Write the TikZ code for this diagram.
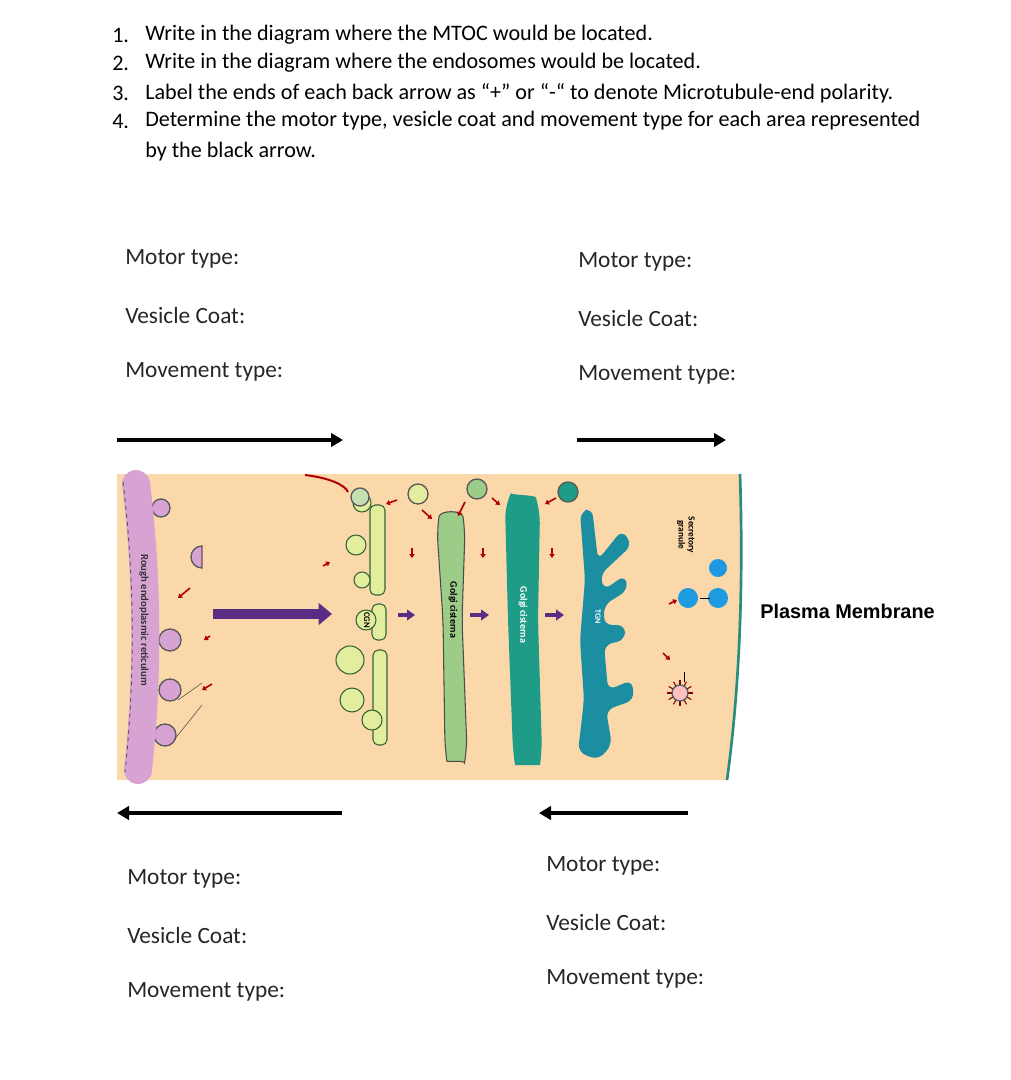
\documentclass[tikz,border=0pt]{standalone}
\usepackage{fontspec}
\setmainfont{Carlito}
\newfontfamily\pmfont{Liberation Sans}
\usetikzlibrary{arrows.meta}
\definecolor{bg}{HTML}{FAD8AA}
\definecolor{er}{HTML}{D7A3D3}
\definecolor{cgn}{HTML}{E2EE9E}
\definecolor{gc}{HTML}{9CCC88}
\definecolor{gd}{HTML}{1E9C88}
\definecolor{tgn}{HTML}{1B8EA2}
\definecolor{gran}{HTML}{1E9BE0}
\definecolor{vio}{HTML}{5B2C83}
\definecolor{memb}{HTML}{2A8C7A}
\tikzset{
 txt/.style={anchor=west,inner sep=0pt,font=\fontsize{16.6}{19}\selectfont},
 lbl/.style={anchor=west,inner sep=0pt,font=\fontsize{17.5}{20}\selectfont,text=black!85},
 blk/.style={line width=3.2pt,-{Triangle[length=9pt,width=10pt]}},
 parr/.style={vio,line width=3pt,-{Triangle[length=6pt,width=8pt]}},
 rarr/.style={red!70!black,line width=1.2pt,-{Triangle[length=3pt,width=4pt]}},
 ves/.style={draw=gray!70!black,line width=1pt},
}
\begin{document}
\begin{tikzpicture}[x=0.75pt,y=-0.75pt]
\useasboundingbox (0,0) rectangle (1010,1080);
% questions
\foreach \n/\y/\t in {1/35/Write in the diagram where the MTOC would be located.,
 2/63/Write in the diagram where the endosomes would be located.,
 3/93/{Label the ends of each back arrow as “+” or “-“ to denote Microtubule-end polarity.},
 4/121/{Determine the motor type, vesicle coat and movement type for each area represented}}
 {\node[txt] (q\n) at (112,\y) {\n.}; \node[txt] (qt\n) at (145,\y) {\t};}
\node[txt] (qt5) at (145,152) {by the black arrow.};
% labels
\foreach \k/\x/\a/\b/\c in {tl/125/259/315/372, tr/578/262/318/375, bl/127/879/935/992, br/546/866/922/979}{
 \node[lbl] (m\k) at (\x,\a) {Motor type:};
 \node[lbl] (v\k) at (\x,\b) {Vesicle Coat:};
 \node[lbl] (t\k) at (\x,\c) {Movement type:};
}
% black arrows
\coordinate (a1) at (117,440); \coordinate (a2) at (343,440);
\coordinate (b1) at (577,440); \coordinate (b2) at (726,440);
\coordinate (c1) at (342,813); \coordinate (c2) at (117,813);
\coordinate (d1) at (688,813); \coordinate (d2) at (539,813);
\draw[blk] (a1) -- (a2); \draw[blk] (b1) -- (b2);
\draw[blk] (c1) -- (c2); \draw[blk] (d1) -- (d2);
% panel
\fill[bg] (117,474) -- (740,474) .. controls (744,600) and (738,700) .. (727,780) -- (117,780) -- cycle;
\draw[memb,line width=2pt] (740,474) .. controls (744,600) and (738,700) .. (727,780);
\node[anchor=west,inner sep=0pt,font=\pmfont\bfseries\fontsize{14.9}{17}\selectfont] (pm) at (760,611) {Plasma Membrane};
% ER buds
\draw[ves,fill=er] (161,508) circle (9);
\foreach \yy/\xx in {640/170, 690/170, 735/165}{\draw[ves,fill=er] (\xx,\yy) circle (11);}
% ER
\draw[er,line width=21pt,line cap=round] (136,484) .. controls (148,580) and (148,680) .. (138,770);
\draw[black!70,dashed,line width=0.6pt] (123,482) .. controls (135,580) and (135,680) .. (125,772);
\draw[ves,fill=er] (202,568) arc (90:270:11) -- cycle;
\node[rotate=-90,font=\fontsize{8}{9}\selectfont\bfseries,text=black!80] (ert) at (144,620) {Rough endoplasmic reticulum};
\draw[gray!60!black] (178,700) -- (202,683); \draw[gray!60!black] (174,740) -- (202,705);
\foreach \p/\q in {{(190,588)}/{(178,598)},{(212,684)}/{(202,690)},{(210,636)}/{(204,640)}}\draw[rarr] \p -- \q;
% big purple arrow
\coordinate (p1) at (213,614); \coordinate (p2) at (332,614);
\draw[vio,line width=7pt,-{Triangle[length=10pt,width=16pt]}] (p1) -- (p2);
% CGN
\begin{scope}[draw=gray!70!green!60!black,line width=0.8pt]
\filldraw[fill=cgn,rounded corners=4pt] (370,505) rectangle (385,595);
\filldraw[fill=cgn] (362,503) circle (9);
\filldraw[fill=cgn] (356,545) circle (10);
\filldraw[fill=cgn] (362,580) circle (8);
\filldraw[fill=cgn,rounded corners=4pt] (372,604) rectangle (386,640);
\filldraw[fill=cgn] (366,620) circle (10);
\filldraw[fill=cgn,rounded corners=4pt] (373,650) rectangle (387,745);
\filldraw[fill=cgn] (350,660) circle (14);
\filldraw[fill=cgn] (352,700) circle (12);
\filldraw[fill=cgn] (372,720) circle (10);
\end{scope}
\node[rotate=-90,font=\fontsize{6.5}{7}\selectfont\bfseries] (cgnt) at (367,620) {CGN};
% Golgi cisterna 1
\filldraw[fill=gc,draw=gray!60!black,line width=0.8pt,rounded corners=10pt] (437,530) .. controls (440,510) and (462,510) .. (465,530) -- (462,620) -- (467,750) .. controls (465,760) and (447,762) .. (445,748) -- (443,620) -- cycle;
\node[rotate=-90,font=\fontsize{7.5}{8}\selectfont\bfseries] (gct) at (453,610) {Golgi cisterna};
% Golgi cisterna 2
\fill[gd,rounded corners=10pt] (505,505) .. controls (510,495) and (535,495) .. (540,510) -- (538,620) -- (542,752) .. controls (540,765) and (515,765) .. (513,752) -- (508,620) -- cycle;
\node[rotate=-90,font=\fontsize{7.5}{8}\selectfont\bfseries,text=white] (gdt) at (523,615) {Golgi cisterna};
% TGN
\fill[tgn,rounded corners=6pt] (580,512) -- (592,508) -- (598,560) -- (622,530) -- (632,545) -- (600,575) -- (604,590) -- (625,575) -- (628,590) -- (604,605) -- (604,625) -- (625,625) -- (625,640) -- (604,645) -- (608,690) -- (632,680) -- (634,700) -- (606,710) -- (612,745) -- (598,760) -- (578,752) -- (584,700) -- (580,640) -- (585,580) -- cycle;
\node[rotate=-90,font=\fontsize{6}{7}\selectfont\bfseries,text=white] (tgnt) at (598,617) {TGN};
% small purple arrows
\foreach \xa/\xb in {398/415, 470/489, 545/564}\draw[parr] (\xa,615) -- (\xb,615);
% top vesicles
\draw[ves,fill=cyan!15!cgn] (360,497) circle (9);
\draw[ves,fill=cgn] (418,494) circle (10);
\draw[ves,fill=gc] (477,489) circle (10);
\draw[ves,fill=gd] (568,492) circle (10);
\draw[red!70!black,line width=1.5pt] (305,475) .. controls (330,478) and (345,485) .. (348,492);
\foreach \p/\q in {{(397,500)}/{(386,504)},{(422,510)}/{(432,519)},{(465,502)}/{(458,516)},{(492,498)}/{(500,505)},{(556,498)}/{(545,504)},{(323,566)}/{(330,562)},{(412,548)}/{(412,558)},{(483,548)}/{(483,558)},{(552,548)}/{(552,558)},{(669,604)}/{(677,600)},{(663,653)}/{(670,660)}}\draw[rarr] \p -- \q;
% granules
\fill[gran] (688,598) circle (10); \fill[gran] (718,598) circle (10); \fill[gran] (718,568) circle (9);
\draw (700,598) -- (710,598);
\node[rotate=-90,font=\fontsize{7}{7.5}\selectfont\bfseries,align=center] (sgt) at (686,535) {Secretory\\granule};
% pink vesicle
\foreach \ang in {0,30,...,330}\draw[red!50!black,line width=0.8pt] (680,693) -- ++(\ang:13);
\draw[ves,fill=pink] (680,693) circle (8);
\draw (684,682) -- (684,672);
\end{tikzpicture}
\end{document}
